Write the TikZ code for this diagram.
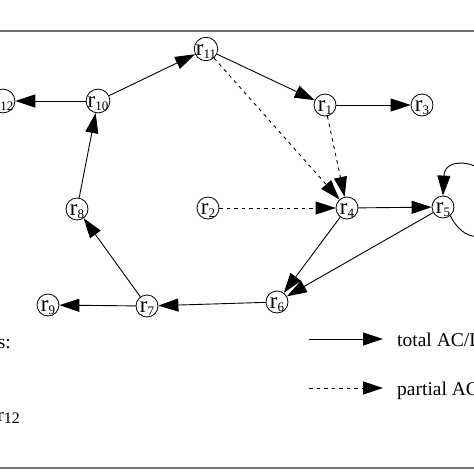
\documentclass[tikz,border=0pt]{standalone}
\usepackage{fontspec}
\setmainfont{Liberation Serif}
\usetikzlibrary{arrows.meta}
\newcommand{\rlab}[1]{r{\fontsize{13}{13}\selectfont\raisebox{-3pt}{#1}}}
\tikzset{
  rnode/.style={circle,draw,line width=0.8pt,minimum size=22pt,inner sep=0pt,
    text height=12pt,text depth=0pt,font=\fontsize{23}{23}\selectfont},
  edgeA/.style={line width=0.9pt,-{Triangle[length=20pt,width=13pt]}},
  edgeD/.style={edgeA,dash pattern=on 3.5pt off 4pt},
  frameline/.style={line width=2pt,black!55},
  legtext/.style={anchor=base west,inner sep=0pt,font=\fontsize{19.5}{19.5}\selectfont}
}
\begin{document}
\begin{tikzpicture}[x=1pt,y=-1pt]
\useasboundingbox (0,0) rectangle (474,474);
\clip (0,0) rectangle (474,474);
\fill[white] (0,0) rectangle (474,474);
\draw[frameline] (0,31) -- (474,31);
\draw[frameline] (0,468) -- (474,468);

\node[rnode] (r11) at (206,49) {\rlab{11}};
\node[rnode] (r10) at (98,101) {\rlab{10}};
\node[rnode] (r12) at (3,101) {\rlab{12}};
\node[rnode] (r1) at (325,105) {\rlab{1}};
\node[rnode] (r3) at (422,105) {\rlab{3}};
\node[rnode] (r8) at (77,209) {\rlab{8}};
\node[rnode] (r2) at (208,208) {\rlab{2}};
\node[rnode] (r4) at (347,208) {\rlab{4}};
\node[rnode] (r5) at (443,207) {\rlab{5}};
\node[rnode] (r7) at (147,306) {\rlab{7}};
\node[rnode] (r9) at (48,305) {\rlab{9}};
\node[rnode] (r6) at (277,302) {\rlab{6}};

\draw[edgeA] (r10) -- (r11);
\draw[edgeA] (r10) -- (r12);
\draw[edgeA] (r8) -- (r10);
\draw[edgeA] (r7) -- (r8);
\draw[edgeA] (r7) -- (r9);
\draw[edgeA] (r6) -- (r7);
\draw[edgeA] (r4) -- (r6);
\draw[edgeA] (r5) -- (r6);
\draw[edgeA] (r4) -- (r5);
\draw[edgeA] (r11) -- (r1);
\draw[edgeA] (r1) -- (r3);
\draw[edgeD] (r11) -- (r4);
\draw[edgeD] (r1) -- (r4);
\draw[edgeD] (r2) -- (r4);
\draw[edgeA] (r5.-50) .. controls (462,240) and (490,250) .. (500,205)
  .. controls (505,165) and (445,150) .. (r5.north);

% legend
\coordinate (la1) at (309,339);
\coordinate (la2) at (383,339);
\coordinate (lb1) at (309,388);
\coordinate (lb2) at (383,388);
\draw[edgeA] (la1) -- (la2);
\draw[edgeD] (lb1) -- (lb2);
\node[legtext] (t1) at (397,346) {total AC/D};
\node[legtext] (t2) at (397,395) {partial AC};
\node[anchor=base east,inner sep=0pt,font=\fontsize{19.5}{19.5}\selectfont] (t3) at (11,348) {s:};
\node[anchor=base east,inner sep=0pt,font=\fontsize{19.5}{19.5}\selectfont] (t4) at (20,421) {r{\fontsize{16}{16}\selectfont\raisebox{-2pt}{12}}};
\end{tikzpicture}
\end{document}
